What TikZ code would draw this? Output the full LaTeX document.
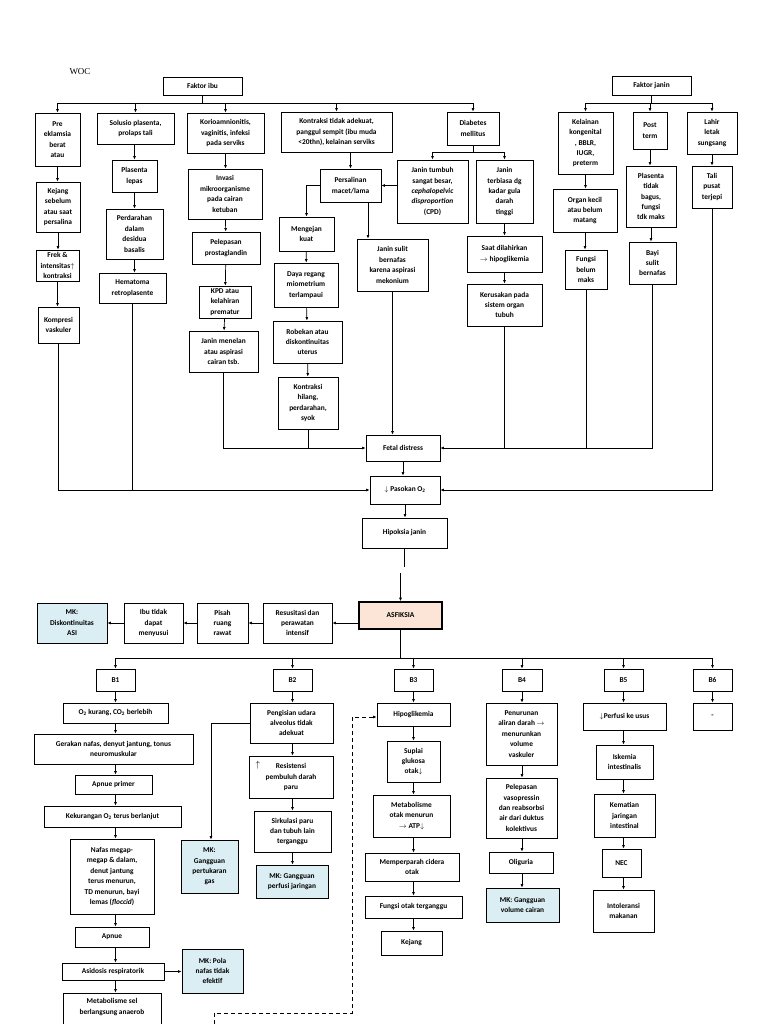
\documentclass[tikz,border=0pt]{standalone}
\usepackage{fontspec}
\setmainfont{Carlito}
\newfontfamily\wocfont{Liberation Serif}
\usetikzlibrary{arrows.meta}
\definecolor{mkblue}{RGB}{219,238,243}
\definecolor{peach}{RGB}{252,228,214}
\newcommand\bx[7][]{\node[bx,#1,minimum width={#5pt-#3pt},minimum height={#6pt-#4pt}] (#2) at ({(#3+#5)/2},{(#4+#6)/2}) {#7};}
\tikzset{
 bx/.style={draw,line width=0.8pt,align=center,inner sep=1pt,font=\fontsize{7.4}{10.4}\selectfont\bfseries},
 mkb/.style={fill=mkblue},
 a/.style={line width=0.7pt,-{Latex[length=3.5pt,width=3pt]}},
 ln/.style={line width=0.7pt}
}
\begin{document}
\begin{tikzpicture}[x=1pt,y=-1pt]
\useasboundingbox (0,0) rectangle (768,1024);
\node[font=\wocfont\fontsize{9}{10}\selectfont] (woc) at (80,72) {WOC};
% top
\bx{fi}{163}{77}{242}{95}{Faktor ibu}
\bx{fj}{612}{76}{691}{95}{Faktor janin}
\bx{pre}{35}{113}{80}{166}{Pre\\eklamsia\\berat\\atau}
\bx{kej}{36}{182}{80}{232}{Kejang\\sebelum\\atau saat\\persalina}
\bx{frek}{36}{250}{79}{281}{Frek \&\\intensitas$\uparrow$\\kontraksi}
\bx{kom}{38}{307}{79}{343}{Kompresi\\vaskuler}
\bx{sol}{97}{113}{174}{144}{Solusio plasenta,\\prolaps tali}
\bx{pl}{112}{160}{157}{192}{Plasenta\\lepas}
\bx{pdd}{106}{209}{163}{259}{Perdarahan\\dalam\\desidua\\basalis}
\bx{hem}{99}{273}{166}{303}{Hematoma\\retroplasente}
\bx{kor}{187}{113}{264}{153}{Korioamnionitis,\\vaginitis, infeksi\\pada serviks}
\bx{inv}{188}{169}{262}{219}{Invasi\\mikroorganisme\\pada cairan\\ketuban}
\bx{pp}{192}{232}{260}{264}{Pelepasan\\prostaglandin}
\bx{kpd}{199}{286}{251}{318}{KPD atau\\kelahiran\\prematur}
\bx{jm}{189}{331}{258}{372}{Janin menelan\\atau aspirasi\\cairan tsb.}
\bx{kta}{281}{112}{392}{152}{Kontraksi tidak adekuat,\\panggul sempit (ibu muda\\<20thn), kelainan serviks}
\bx{pm}{320}{169}{381}{202}{Persalinan\\macet/lama}
\bx{mk}{279}{217}{334}{251}{Mengejan\\kuat}
\bx{dr}{274}{263}{338}{307}{Daya regang\\miometrium\\terlampaui}
\bx{rob}{273}{321}{342}{363}{Robekan atau\\diskontinuitas\\uterus}
\bx{kh}{278}{377}{338}{429}{Kontraksi\\hilang,\\perdarahan,\\syok}
\bx{jsb}{357}{239}{428}{291}{Janin sulit\\bernafas\\karena aspirasi\\mekonium}
\bx{dm}{447}{112}{499}{145}{Diabetes\\mellitus}
\bx{jt}{397}{160}{468}{223}{Janin tumbuh\\sangat besar,\\\textit{cephalopelvic}\\\textit{disproportion}\\(CPD)}
\bx{jtb}{476}{160}{533}{223}{Janin\\terbiasa dg\\kadar gula\\darah\\tinggi}
\bx{sd}{467}{236}{542}{272}{Saat dilahirkan\\$\rightarrow$ hipoglikemia}
\bx{ker}{467}{284}{542}{326}{Kerusakan pada\\sistem organ\\tubuh}
\bx{kk}{558}{112}{613}{174}{Kelainan\\kongenital\\, BBLR,\\IUGR,\\preterm}
\bx{ok}{553}{189}{617}{232}{Organ kecil\\atau belum\\matang}
\bx{fbm}{565}{250}{607}{289}{Fungsi\\belum\\maks}
\bx{pt}{633}{112}{667}{149}{Post\\term}
\bx{ptb}{626}{166}{676}{227}{Plasenta\\tidak\\bagus,\\fungsi\\tdk maks}
\bx{bsb}{629}{242}{676}{284}{Bayi\\sulit\\bernafas}
\bx{ls}{687}{112}{737}{154}{Lahir\\letak\\sungsang}
\bx{tp}{692}{166}{732}{208}{Tali\\pusat\\terjepi}
\bx{fd}{366}{435}{440}{461}{Fetal distress}
\bx{po}{370}{476}{440}{504}{$\downarrow$ Pasokan O\textsubscript{2}}
\bx{hj}{362}{518}{447}{548}{Hipoksia janin}
% top connectors
\draw[ln] (fi.south) -- (fi.south|-0,103);
\draw[ln] (pre.north|-0,103) -- (dm.north|-0,103);
\foreach \n in {pre,sol,kor,kta,dm} \draw[a] (\n.north|-0,103) -- (\n.north);
\draw[ln] (fj.south) -- (fj.south|-0,103);
\draw[ln] (kk.north|-0,103) -- (ls.north|-0,103);
\foreach \n in {kk,pt,ls} \draw[a] (\n.north|-0,103) -- (\n.north);
\draw[a] (pre.south) -- (pre.south|-kej.north); \draw[a] (kej.south) -- (kej.south|-frek.north); \draw[a] (frek.south) -- (frek.south|-kom.north);
\draw[a] (sol.south-|pl.north) -- (pl.north); \draw[a] (pl.south) -- (pl.south|-pdd.north); \draw[a] (pdd.south) -- (pdd.south|-hem.north);
\draw[a] (kor.south) -- (kor.south|-inv.north); \draw[a] (inv) -- (pp); \draw[a] (pp) -- (kpd); \draw[a] (kpd) -- (jm);
\draw[a] (pm.north|-kta.south) -- (pm.north);
\draw[a] (jt.west|-pm.east) -- (pm.east);
\draw[a] (pm.west) -| (mk.north);
\draw[a] (pm.south-|368,0) -- (jsb.north-|368,0);
\draw[a] (mk) -- (dr); \draw[a] (dr) -- (rob); \draw[a] (rob) -- (kh);
\draw[ln] (dm.south) -- (dm.south|-0,152);
\draw[ln] (jt.north|-0,152) -- (jtb.north|-0,152);
\draw[a] (jt.north|-0,152) -- (jt.north); \draw[a] (jtb.north|-0,152) -- (jtb.north);
\draw[a] (jtb.south) -- (jtb.south|-sd.north); \draw[a] (sd.south) -- (sd.south|-ker.north);
\draw[a] (kk.south) -- (kk.south|-ok.north); \draw[a] (ok.south) -- (ok.south|-fbm.north);
\draw[a] (pt.south) -- (pt.south|-ptb.north); \draw[a] (ptb.south) -- (ptb.south|-bsb.north);
\draw[a] (ls.south) -- (ls.south|-tp.north);
% to fetal distress
\draw[a] (jm.south) |- (fd.west);
\draw[ln] (kh.south) -- (kh.south|-fd.west);
\draw[a] (jsb.south) -- (jsb.south|-fd.north);
\draw[a] (bsb.south) |- (fd.east);
\draw[ln] (ker.south) -- (ker.south|-fd.east);
\draw[ln] (fbm.south) -- (fbm.south|-fd.east);
\draw[a] (kom.south) |- (po.west);
\draw[ln] (hem.south) -- (hem.south|-po.west);
\draw[a] (tp.south) |- (po.east);
\draw[a] (fd.south) -- (fd.south|-po.north);
\draw[a] (po.south) -- (po.south|-hj.north);
\draw[ln] (hj.south) -- ++(0,19);
% ASFIKSIA
\node[draw,line width=1.6pt,fill=peach,minimum width=83pt,minimum height=27pt,font=\fontsize{7.5}{9}\selectfont\bfseries] (asf) at (400.5,615.5) {ASFIKSIA};
\draw[a] ([yshift=28pt]asf.north) -- (asf.north);
\bx{res}{263}{603}{332}{643}{Resusitasi dan\\perawatan\\intensif}
\bx{pis}{197}{603}{248}{643}{Pisah\\ruang\\rawat}
\bx{ibu}{124}{603}{183}{643}{Ibu tidak\\dapat\\menyusui}
\bx[mkb]{mkd}{37}{603}{107}{643}{MK:\\Diskontinuitas\\ASI}
\draw[a] (asf.west) -- (res.east-|asf.west) -- (res.east);
\draw[a] (res.west) -- (pis.east|-res.west);
\draw[a] (pis.west) -- (ibu.east|-pis.west);
\draw[a] (ibu.west) -- (mkd.east|-ibu.west);
% B boxes
\bx{b1}{96}{669}{135}{691}{B1}
\bx{b2}{273}{669}{312}{691}{B2}
\bx{b3}{394}{669}{433}{691}{B3}
\bx{b4}{502}{669}{542}{691}{B4}
\bx{b5}{604}{669}{643}{691}{B5}
\bx{b6}{693}{669}{732}{691}{B6}
\draw[ln] (asf.south) -- (asf.south|-0,658);
\draw[ln] (b1.north|-0,658) -- (b6.north|-0,658);
\foreach \n in {b1,b2,b3,b4,b5,b6} \draw[a] (\n.north|-0,658) -- (\n.north);
% B1
\bx{o2}{63}{703}{168}{723}{O\textsubscript{2} kurang, CO\textsubscript{2} berlebih}
\bx{ger}{34}{734}{193}{764}{Gerakan nafas, denyut jantung, tonus\\neuromuskular}
\bx{apn}{75}{775}{152}{794}{Apnue primer}
\bx{kek}{44}{806}{181}{827}{Kekurangan O\textsubscript{2} terus berlanjut}
\bx{naf}{70}{839}{154}{914}{Nafas megap-\\megap \& dalam,\\denut jantung\\terus menurun,\\TD menurun, bayi\\lemas (\textit{floccid})}
\bx{apn2}{75}{927}{149}{947}{Apnue}
\bx{asi}{62}{963}{164}{980}{Asidosis respiratorik}
\bx[mkb]{mkp}{182}{949}{243}{993}{MK: Pola\\nafas tidak\\efektif}
\bx{met}{63}{993}{161}{1030}{Metabolisme sel\\berlangsung anaerob\\}
\foreach \p/\q in {b1/o2,o2/ger,ger/apn,apn/kek,kek/naf,naf/apn2,apn2/asi,asi/met}
  \draw[a] (\p.south-|b1.south) -- (\q.north-|b1.south);
\draw[a] (asi.east) -- (mkp.west|-asi.east);
% B2
\bx{pen}{250}{703}{333}{743}{Pengisian udara\\alveolus tidak\\adekuat}
\bx{res2}{249}{756}{333}{798}{Resistensi\\pembuluh darah\\paru}
\node[font=\small] at (258,765) {$\uparrow$};
\bx{sir}{254}{811}{331}{852}{Sirkulasi paru\\dan tubuh lain\\terganggu}
\bx[mkb]{mkg}{256}{865}{328}{898}{MK: Gangguan\\perfusi jaringan}
\bx[mkb]{mkpg}{181}{840}{238}{893}{MK:\\Gangguan\\pertukaran\\gas}
\foreach \p/\q in {b2/pen,pen/res2,res2/sir,sir/mkg}
  \draw[a] (\p.south-|b2.south) -- (\q.north-|b2.south);
\draw[a] (pen.west|-0,723) -| (mkpg.north-|211,0);
% B3
\bx{hyp}{377}{703}{450}{726}{Hipoglikemia}
\bx{sup}{387}{741}{440}{782}{Suplai\\glukosa\\otak$\downarrow$}
\bx{mo}{373}{795}{450}{837}{Metabolisme\\otak menurun\\$\rightarrow$ ATP$\downarrow$}
\bx{mem}{365}{853}{459}{881}{Memperparah cidera\\otak}
\bx{fo}{365}{896}{462}{918}{Fungsi otak terganggu}
\bx{kjg}{381}{931}{442}{955}{Kejang}
\foreach \p/\q in {b3/hyp,hyp/sup,sup/mo,mo/mem,mem/fo,fo/kjg}
  \draw[a] (\p.south-|b3.south) -- (\q.north-|b3.south);
% B4
\bx{pnr}{486}{703}{557}{765}{Penurunan\\aliran darah $\rightarrow$\\menurunkan\\volume\\vaskuler}
\bx{vas}{486}{778}{557}{838}{Pelepasan\\vasopressin\\dan reabsorbsi\\air dari duktus\\kolektivus}
\bx{oli}{489}{852}{553}{873}{Oliguria}
\bx[mkb]{mkv}{486}{888}{559}{922}{MK: Gangguan\\volume cairan}
\foreach \p/\q in {b4/pnr,pnr/vas,vas/oli,oli/mkv}
  \draw[a] (\p.south-|b4.south) -- (\q.north-|b4.south);
% B5
\bx{per}{583}{703}{666}{730}{$\downarrow$Perfusi ke usus}
\bx{isk}{596}{745}{653}{779}{Iskemia\\intestinalis}
\bx{kem}{594}{794}{655}{837}{Kematian\\jaringan\\intestinal}
\bx{nec}{602}{849}{641}{877}{NEC}
\bx{int}{593}{890}{654}{932}{Intoleransi\\makanan}
\foreach \p/\q in {b5/per,per/isk,isk/kem,kem/nec,nec/int}
  \draw[a] (\p.south-|b5.south) -- (\q.north-|b5.south);
% B6
\bx{dsh}{693}{703}{732}{730}{-}
\draw[a] (b6) -- (dsh);
% dashed
\coordinate (ds) at (214,1024);
\draw[a,dash pattern=on 4pt off 3pt] (ds) -- (214,1013) -- (352,1013) -- (352,717) -- (hyp.west|-0,717);
\end{tikzpicture}
\end{document}
